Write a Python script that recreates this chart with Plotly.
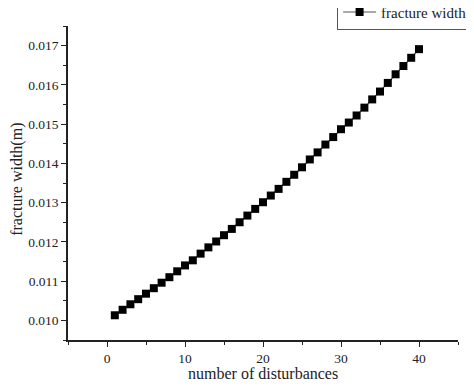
import plotly.graph_objects as go

disturbances = list(range(1, 41))
fracture_width = [
    0.01013, 0.01027, 0.01041, 0.01054, 0.01068, 0.01082, 0.01096, 0.01110, 0.01125, 0.01140,
    0.01153, 0.01170, 0.01186, 0.01201, 0.01217, 0.01233, 0.01250, 0.01267, 0.01284, 0.01301,
    0.01318, 0.01335, 0.01353, 0.01371, 0.01390, 0.01410, 0.01428, 0.01448, 0.01467, 0.01487,
    0.01504, 0.01522, 0.01542, 0.01563, 0.01583, 0.01605, 0.01627, 0.01648, 0.01669, 0.01691,
]
x_ticks = [0, 10, 20, 30, 40]
y_ticks = [0.010, 0.011, 0.012, 0.013, 0.014, 0.015, 0.016, 0.017]
x_title = "number of disturbances"
y_title = "fracture width(m)"

FONT = "Liberation Serif"
INK = "#222222"

fig = go.Figure()
fig.add_trace(go.Scatter(
    x=disturbances, y=fracture_width, mode="lines+markers", name="fracture width",
    line=dict(color="#555555", width=1.2),
    marker=dict(symbol="square", size=8, color="black"),
))

axis_common = dict(
    showline=True, linecolor=INK, linewidth=1.5,
    ticks="outside", ticklen=5, tickwidth=1.3, tickcolor=INK,
    showgrid=False, zeroline=False, mirror=False, automargin=False,
    tickfont=dict(family=FONT, size=13.5, color=INK),
)

fig.update_layout(
    width=466, height=382,
    margin=dict(l=60, r=16, t=18, b=50, autoexpand=False),
    plot_bgcolor="white", paper_bgcolor="white",
    font=dict(family=FONT, color=INK),
    xaxis=dict(
        range=[-5, 45], tickvals=x_ticks,
        minor=dict(ticks="outside", ticklen=3, tickwidth=1.2, tickcolor=INK, dtick=5, tick0=0),
        **axis_common,
    ),
    yaxis=dict(
        range=[0.0095, 0.0175], tickvals=y_ticks, tickformat=".3f",
        minor=dict(ticks="outside", ticklen=3, tickwidth=1.2, tickcolor=INK, dtick=0.0005, tick0=0.0095),
        **axis_common,
    ),
    annotations=[
        dict(text=x_title, xref="paper", yref="paper", x=0.499, y=-0.108,
             xanchor="center", yanchor="middle", showarrow=False,
             font=dict(family=FONT, size=16, color=INK)),
        dict(text=y_title, xref="paper", yref="paper", x=-0.131, y=0.513,
             xanchor="center", yanchor="middle", showarrow=False, textangle=-90,
             font=dict(family=FONT, size=16, color=INK)),
    ],
    showlegend=True,
    legend=dict(
        x=0.69, y=0.988, xanchor="left", yanchor="bottom",
        bordercolor="#555555", borderwidth=1, bgcolor="white",
        font=dict(family=FONT, size=15, color=INK),
        itemwidth=33, tracegroupgap=0,
    ),
)

fig.write_html("out.html")
